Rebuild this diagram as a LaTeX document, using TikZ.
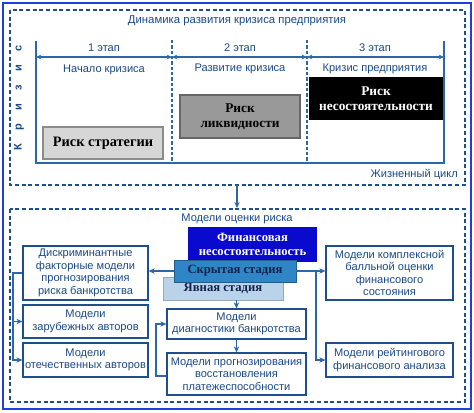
\documentclass[tikz,border=0pt]{standalone}
\usepackage{fontspec}
\setmainfont{Liberation Sans}
\newfontfamily\serifb{Liberation Serif}
\usetikzlibrary{arrows.meta}
\definecolor{frameblue}{HTML}{1E3FE0}
\definecolor{dk}{HTML}{1F4E8C}
\definecolor{tx}{HTML}{1A4A88}
\definecolor{ln}{HTML}{2E67A8}
\definecolor{finblue}{HTML}{0A0ACF}
\definecolor{skblue}{HTML}{2F86C6}
\definecolor{yavblue}{HTML}{B9D3EB}
\definecolor{navytext}{HTML}{14224A}
\begin{document}
\begin{tikzpicture}[x=0.75pt,y=-0.75pt,
  wh/.style 2 args={minimum width=#1*0.75pt, minimum height=#2*0.75pt},
  lbl/.style={text=tx, font=\fontsize{8.3}{10}\selectfont, inner sep=0},
  mbox/.style={draw=dk, line width=0.9pt, fill=white, text=tx, align=center,
    font=\fontsize{8.3}{9.4}\selectfont, inner sep=1pt},
  rbox/.style={font=\serifb\bfseries\fontsize{10}{11.5}\selectfont, align=center, inner sep=1pt},
  sbox/.style={font=\serifb\bfseries\fontsize{9.5}{11}\selectfont, align=center, inner sep=1pt},
  dframe/.style={draw=dk, line width=0.8pt, dash pattern=on 3pt off 2pt},
  chart/.style={draw=ln, line width=0.8pt},
  dchart/.style={draw=ln, line width=0.8pt, dash pattern=on 2.5pt off 1.5pt},
  tw/.style={chart, {Stealth[length=4pt,width=3.5pt]}-{Stealth[length=4pt,width=3.5pt]}},
  arr/.style={draw=ln, line width=0.8pt, -{Stealth[length=4.5pt,width=4pt]}},
  ln2/.style={draw=ln, line width=0.8pt}
]
\useasboundingbox (0,0) rectangle (474,412);
\fill[white] (0,0) rectangle (474,412);
\draw[frameblue, line width=2.2pt] (3,3) rectangle (471,409);

% ---------- top part ----------
\draw[dframe] (10,10) rectangle (465,185);
\node[lbl, font=\fontsize{8.5}{10}\selectfont] (title) at (237,21) {Динамика развития кризиса предприятия};
\node[lbl, rotate=90, font=\bfseries\fontsize{8.3}{10}\selectfont] (kriz) at (19,98)
  {К\hspace{10pt}р\hspace{10pt}и\hspace{10pt}з\hspace{10pt}и\hspace{10pt}с};

\coordinate (a0) at (36,57);
\coordinate (a1) at (172,57);
\coordinate (a2) at (307,57);
\coordinate (a3) at (444,57);
\draw[chart] (36,41) -- (36,163) -- (444,163) -- (444,41);
\draw[dchart] (172,40) -- (172,163);
\draw[dchart] (307,40) -- (307,163);
\draw[tw] (a0) -- (a1);
\draw[tw] (a1) -- (a2);
\draw[tw] (a2) -- (a3);

\node[lbl] (e1) at (104,48) {1 этап};
\node[lbl] (e2) at (240,48) {2 этап};
\node[lbl] (e3) at (375,48) {3 этап};
\node[lbl] (s1) at (104,70) {Начало кризиса};
\node[lbl] (s2) at (240,69) {Развитие кризиса};
\node[lbl] (s3) at (375,69) {Кризис предприятия};

\node[rbox, font=\serifb\bfseries\fontsize{10.8}{12}\selectfont, wh={120}{32}, fill=black!16, draw=black!45, line width=0.8pt] (strat) at (103,143) {Риск стратегии};
\node[rbox, wh={120}{43}, fill=black!40, draw=black!60, line width=0.8pt] (liq) at (240,116.5) {Риск\\ликвидности};
\node[rbox, wh={134}{43}, fill=black, text=white] (insolv) at (376,98.5) {Риск\\несостоятельности};

\node[lbl, anchor=east] (life) at (458,174) {Жизненный цикл};

% ---------- bottom part ----------
\draw[dframe] (10,209) rectangle (465,402);
\coordinate (topout) at (237,185);
\coordinate (botin) at (237,208);
\draw[arr] (topout) -- (botin);

\node[lbl] (models) at (237,219) {Модели оценки риска};

\node[sbox, wh={120}{23}, fill=yavblue, draw=yavblue!80!black, line width=0.4pt, text=navytext] (yav) at (223,288.5) {Явная стадия};
\node[sbox, wh={129}{35}, fill=finblue, text=white] (fin) at (252.5,244.5) {Финансовая\\несостоятельность};
\node[sbox, wh={122}{22}, fill=skblue, draw=skblue!70!black, line width=0.4pt, text=navytext] (sk) at (235,271) {Скрытая стадия};

\node[mbox, wh={125}{54}] (d1) at (85.5,273) {Дискриминантные\\факторные модели\\прогнозирования\\риска банкротства};
\node[mbox, wh={125}{33}] (d2) at (85.5,321.5) {Модели\\зарубежных авторов};
\node[mbox, wh={125}{34}] (d3) at (85.5,360) {Модели\\отечественных авторов};

\node[mbox, wh={139}{30}] (c1) at (236.5,324) {Модели\\диагностики банкротства};
\node[mbox, wh={139}{42}] (c2) at (236.5,374) {Модели прогнозирования\\восстановления\\платежеспособности};

\node[mbox, wh={127}{54}] (r1) at (389.5,273) {Модели комплексной\\балльной оценки\\финансового\\состояния};
\node[mbox, wh={127}{34}] (r2) at (389.5,360) {Модели рейтингового\\финансового анализа};

\coordinate (lb) at (13,0);
\coordinate (rb) at (316,0);
\coordinate (cb) at (156,0);

\draw[arr] (sk.west) -- (d1.east |- sk.west);
\draw[arr] (d1.west) -- (d1.west -| lb) |- (d3.west);
\draw[arr] (d2.west -| lb) -- (d2.west);

\draw[arr] (sk.east) -- (r1.west |- sk.east);
\draw[arr] (sk.east -| rb) |- (r2.west);

\draw[arr] (c1.north |- yav.south) -- (c1.north);
\draw[arr] (c1.south) -- (c2.north);
\draw[arr] ([yshift=-2*0.75pt]c2.west) -- ([yshift=-2*0.75pt]c2.west -| cb) |- (c1.west);
\end{tikzpicture}
\end{document}
